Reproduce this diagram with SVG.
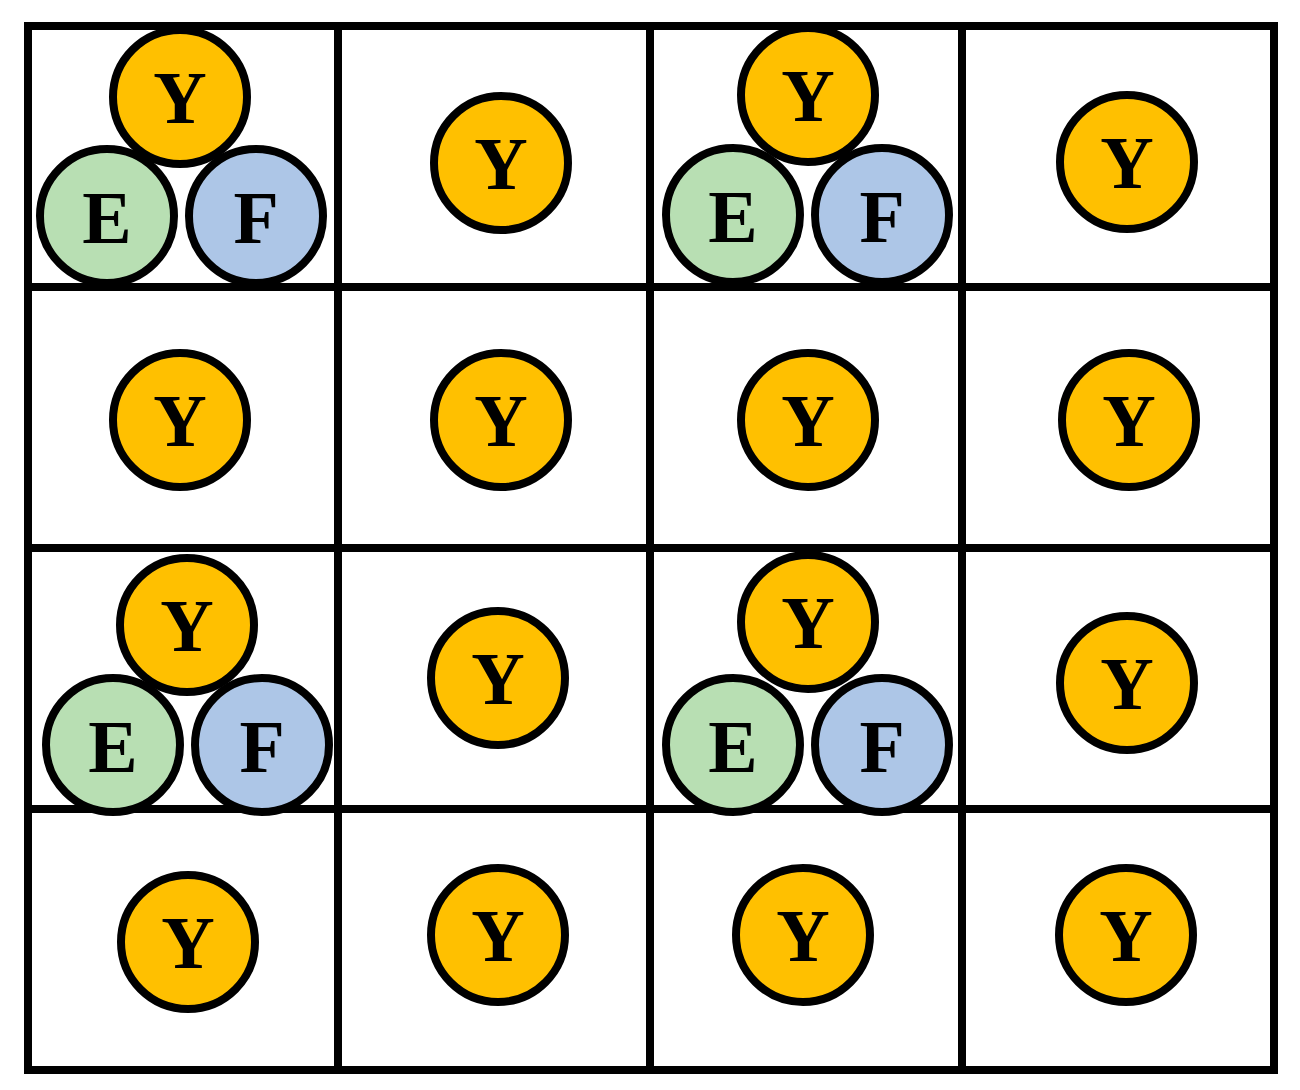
<svg xmlns="http://www.w3.org/2000/svg" width="1300" height="1090" viewBox="0 0 1300 1090">
<style>
.grid{stroke:#000;stroke-width:8;fill:none}
.c{stroke:#000;stroke-width:8}
.y{fill:#FFC000}
.e{fill:#B8DFB3}
.f{fill:#ADC6E7}
text{font-family:"Liberation Serif","Times New Roman",serif;font-weight:bold;font-size:74px;text-anchor:middle;fill:#000}
</style>
<rect width="1300" height="1090" fill="#fff"/>
<g id="connectors">
<g id="grid" class="grid">
<rect x="28" y="26" width="1246" height="1044"/>
<line x1="338" y1="26" x2="338" y2="1070"/>
<line x1="650" y1="26" x2="650" y2="1070"/>
<line x1="962" y1="26" x2="962" y2="1070"/>
<line x1="28" y1="287" x2="1274" y2="287"/>
<line x1="28" y1="548" x2="1274" y2="548"/>
<line x1="28" y1="809" x2="1274" y2="809"/>
</g>
</g>
<!-- row 0 -->
<g id="r0c0">
<g id="r0c0-Y"><circle class="c y" cx="180" cy="97" r="67"/><text x="180" y="123">Y</text></g>
<g id="r0c0-E"><circle class="c e" cx="107" cy="216" r="67"/><text x="107" y="243">E</text></g>
<g id="r0c0-F"><circle class="c f" cx="256" cy="216" r="67"/><text x="256" y="243">F</text></g>
</g>
<g id="r0c1"><circle class="c y" cx="501" cy="163" r="67"/><text x="501" y="189">Y</text></g>
<g id="r0c2">
<g id="r0c2-Y"><circle class="c y" cx="808" cy="95" r="67"/><text x="808" y="121">Y</text></g>
<g id="r0c2-E"><circle class="c e" cx="733" cy="215" r="67"/><text x="733" y="242">E</text></g>
<g id="r0c2-F"><circle class="c f" cx="882" cy="215" r="67"/><text x="882" y="242">F</text></g>
</g>
<g id="r0c3"><circle class="c y" cx="1127" cy="162" r="67"/><text x="1127" y="188">Y</text></g>
<!-- row 1 -->
<g id="r1c0"><circle class="c y" cx="180" cy="420" r="67"/><text x="180" y="446">Y</text></g>
<g id="r1c1"><circle class="c y" cx="501" cy="420" r="67"/><text x="501" y="446">Y</text></g>
<g id="r1c2"><circle class="c y" cx="808" cy="420" r="67"/><text x="808" y="446">Y</text></g>
<g id="r1c3"><circle class="c y" cx="1129" cy="420" r="67"/><text x="1129" y="446">Y</text></g>
<!-- row 2 -->
<g id="r2c0">
<g id="r2c0-Y"><circle class="c y" cx="187" cy="625" r="67"/><text x="187" y="651">Y</text></g>
<g id="r2c0-E"><circle class="c e" cx="113" cy="745" r="67"/><text x="113" y="772">E</text></g>
<g id="r2c0-F"><circle class="c f" cx="262" cy="745" r="67"/><text x="262" y="772">F</text></g>
</g>
<g id="r2c1"><circle class="c y" cx="498" cy="678" r="67"/><text x="498" y="704">Y</text></g>
<g id="r2c2">
<g id="r2c2-Y"><circle class="c y" cx="808" cy="622" r="67"/><text x="808" y="648">Y</text></g>
<g id="r2c2-E"><circle class="c e" cx="733" cy="745" r="67"/><text x="733" y="772">E</text></g>
<g id="r2c2-F"><circle class="c f" cx="882" cy="745" r="67"/><text x="882" y="772">F</text></g>
</g>
<g id="r2c3"><circle class="c y" cx="1127" cy="683" r="67"/><text x="1127" y="709">Y</text></g>
<!-- row 3 -->
<g id="r3c0"><circle class="c y" cx="188" cy="942" r="67"/><text x="188" y="968">Y</text></g>
<g id="r3c1"><circle class="c y" cx="498" cy="935" r="67"/><text x="498" y="961">Y</text></g>
<g id="r3c2"><circle class="c y" cx="803" cy="935" r="67"/><text x="803" y="961">Y</text></g>
<g id="r3c3"><circle class="c y" cx="1126" cy="935" r="67"/><text x="1126" y="961">Y</text></g>
</svg>
